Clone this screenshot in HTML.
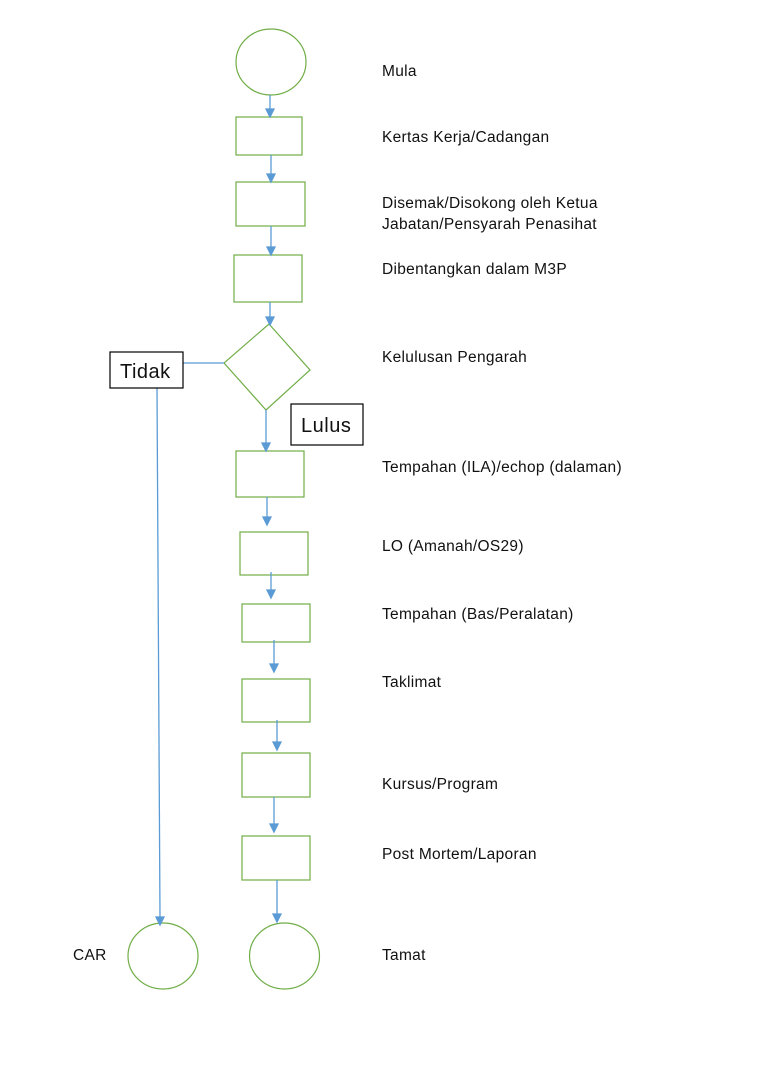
<!DOCTYPE html>
<html><head><meta charset="utf-8"><style>
html,body{margin:0;padding:0;background:#fff;}
svg{display:block}
text{font-family:"Liberation Sans",sans-serif;fill:#111;}
</style></head><body>
<svg width="768" height="1087" viewBox="0 0 768 1087" xmlns="http://www.w3.org/2000/svg">
<g fill="none" stroke="#70ad47" stroke-width="1.2">
<ellipse cx="271" cy="62" rx="35" ry="33"/>
<rect x="236" y="117" width="66" height="38"/>
<rect x="236" y="182" width="69" height="44"/>
<rect x="234" y="255" width="68" height="47"/>
<polygon points="269,324 310,370 266,410 224,363"/>
<rect x="236" y="451" width="68" height="46"/>
<rect x="240" y="532" width="68" height="43"/>
<rect x="242" y="604" width="68" height="38"/>
<rect x="242" y="679" width="68" height="43"/>
<rect x="242" y="753" width="68" height="44"/>
<rect x="242" y="836" width="68" height="44"/>
<ellipse cx="163" cy="956" rx="35" ry="33"/>
<ellipse cx="284.5" cy="956" rx="35" ry="33"/>
</g>
<g stroke="#5b9bd5" stroke-width="1.3" fill="#5b9bd5">
<line x1="270" y1="95" x2="270" y2="110"/><path d="M266,109 L274,109 L270,117 Z"/>
<line x1="271" y1="155" x2="271" y2="175"/><path d="M267,174 L275,174 L271,182 Z"/>
<line x1="271" y1="226" x2="271" y2="248"/><path d="M267,247 L275,247 L271,255 Z"/>
<line x1="270" y1="302" x2="270" y2="318"/><path d="M266,317 L274,317 L270,325 Z"/>
<line x1="183" y1="363" x2="224" y2="363"/>
<line x1="157" y1="388" x2="160" y2="918"/><path d="M156,917 L164,917 L160,925 Z"/>
<line x1="266" y1="410" x2="266" y2="444"/><path d="M262,443 L270,443 L266,451 Z"/>
<line x1="267" y1="497" x2="267" y2="518"/><path d="M263,517 L271,517 L267,525 Z"/>
<line x1="271" y1="572" x2="271" y2="591"/><path d="M267,590 L275,590 L271,598 Z"/>
<line x1="274" y1="640" x2="274" y2="665"/><path d="M270,664 L278,664 L274,672 Z"/>
<line x1="277" y1="720" x2="277" y2="743"/><path d="M273,742 L281,742 L277,750 Z"/>
<line x1="274" y1="797" x2="274" y2="825"/><path d="M270,824 L278,824 L274,832 Z"/>
<line x1="277" y1="880" x2="277" y2="915"/><path d="M273,914 L281,914 L277,922 Z"/>
</g>
<rect x="110" y="352" width="73" height="36" fill="#fff" stroke="#000" stroke-width="1.2"/>
<text x="120" y="378" font-size="20" letter-spacing="0.5">Tidak</text>
<rect x="291" y="404" width="72" height="41" fill="#fff" stroke="#000" stroke-width="1.2"/>
<text x="301" y="432" font-size="20" letter-spacing="0.5">Lulus</text>
<g font-size="15.5" letter-spacing="0.3">
<text x="382" y="76">Mula</text>
<text x="382" y="142">Kertas Kerja/Cadangan</text>
<text x="382" y="208">Disemak/Disokong oleh Ketua</text>
<text x="382" y="229">Jabatan/Pensyarah Penasihat</text>
<text x="382" y="274">Dibentangkan dalam M3P</text>
<text x="382" y="362">Kelulusan Pengarah</text>
<text x="382" y="472">Tempahan (ILA)/echop (dalaman)</text>
<text x="382" y="551">LO (Amanah/OS29)</text>
<text x="382" y="619">Tempahan (Bas/Peralatan)</text>
<text x="382" y="687">Taklimat</text>
<text x="382" y="789">Kursus/Program</text>
<text x="382" y="859">Post Mortem/Laporan</text>
<text x="382" y="960">Tamat</text>
<text x="73" y="960">CAR</text>
</g>
</svg>
</body></html>
